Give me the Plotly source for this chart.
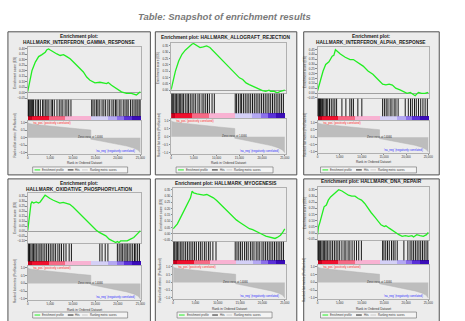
import plotly.graph_objects as go

W, H = 465, 321

main_title = "Table: Snapshot of enrichment results"
panel_titles = [
    ["Enrichment plot:", "HALLMARK_INTERFERON_GAMMA_RESPONSE"],
    ["Enrichment plot: HALLMARK_ALLOGRAFT_REJECTION"],
    ["Enrichment plot:", "HALLMARK_INTERFERON_ALPHA_RESPONSE"],
    ["Enrichment plot:", "HALLMARK_OXIDATIVE_PHOSPHORYLATION"],
    ["Enrichment plot: HALLMARK_MYOGENESIS"],
    ["Enrichment plot: HALLMARK_DNA_REPAIR"],
]

# Enrichment score curves (rank, ES)
es_rank = [
    [0, 441, 956, 1691, 2426, 3162, 3897, 4265, 4632, 5000, 5735, 6471, 7206, 7941, 8676, 9412, 10147, 10882,
     11618, 12353, 13088, 13824, 14926, 16029, 17500, 17868, 18603, 19706, 20809, 21912, 23015, 24118, 24485, 25000],
    [0, 434, 939, 1661, 2384, 3107, 3829, 4552, 4913, 5636, 6358, 7081, 7803, 8526, 9249, 9971, 10694, 11416,
     12139, 12861, 13584, 14306, 15029, 15751, 16474, 17197, 17919, 18642, 19364, 20087, 20809, 21532, 21893,
     22616, 23338, 24061, 25000],
    [0, 368, 735, 1250, 1838, 2573, 3308, 3675, 4043, 4410, 5145, 6248, 7350, 8085, 8820, 9555, 10290, 11393,
     12495, 13598, 14700, 15435, 16170, 16905, 17640, 18743, 19845, 20213, 20948, 21683, 22050, 22785, 23520,
     24255, 25000],
    [0, 219, 437, 729, 948, 1312, 1895, 2405, 2770, 3134, 3499, 3863, 4228, 4592, 4957, 5686, 6415, 7144, 7873,
     8601, 9330, 10059, 10788, 11517, 12246, 12975, 13703, 14432, 15161, 15890, 16619, 17348, 18077, 18806,
     19535, 19900, 20264, 20629, 21358, 22087, 22816, 23545, 24274, 25000],
    [0, 367, 953, 1686, 2419, 3152, 3885, 4252, 4619, 5352, 6085, 6818, 7551, 8284, 9017, 9750, 10483, 11216,
     11949, 12682, 13415, 14148, 14881, 15614, 16347, 17080, 17813, 18546, 19279, 20012, 20745, 21478, 22211,
     22797, 23310, 24043, 24556, 25000],
    [0, 221, 515, 956, 1470, 1985, 2426, 2940, 3675, 4410, 4778, 5513, 6248, 6983, 7718, 8453, 9188, 9923,
     10658, 11393, 12128, 12863, 13598, 14333, 15068, 15435, 16170, 16905, 17640, 18375, 19110, 19845, 20580,
     21315, 21683, 22418, 23153, 23888, 24623, 25000],
]
es_score = [
    [0.01, 0.114, 0.204, 0.28, 0.33, 0.348, 0.37, 0.393, 0.40, 0.39, 0.37, 0.354, 0.34, 0.348, 0.33, 0.31, 0.28,
     0.25, 0.22, 0.19, 0.144, 0.114, 0.09, 0.096, 0.084, 0.093, 0.069, 0.039, 0.009, -0.006, -0.006, -0.02,
     -0.006, 0.01],
    [0.005, 0.072, 0.151, 0.231, 0.284, 0.316, 0.342, 0.363, 0.369, 0.350, 0.337, 0.342, 0.350, 0.337, 0.310,
     0.284, 0.257, 0.231, 0.204, 0.178, 0.151, 0.125, 0.098, 0.085, 0.058, 0.045, 0.032, 0.018, 0.005, -0.003,
     -0.008, 0.0, -0.008, -0.008, -0.021, -0.008, 0.0],
    [0.024, 0.092, 0.160, 0.228, 0.296, 0.323, 0.381, 0.391, 0.449, 0.432, 0.405, 0.371, 0.347, 0.347, 0.323,
     0.303, 0.279, 0.228, 0.194, 0.143, 0.092, 0.085, 0.092, 0.082, 0.051, 0.031, 0.007, -0.003, 0.007, -0.010,
     -0.027, 0.007, -0.003, -0.003, 0.007],
    [0.003, 0.105, 0.207, 0.276, 0.293, 0.282, 0.293, 0.282, 0.293, 0.316, 0.337, 0.361, 0.350, 0.337, 0.327,
     0.310, 0.293, 0.282, 0.289, 0.282, 0.269, 0.241, 0.207, 0.173, 0.139, 0.105, 0.071, 0.037, 0.010, -0.014,
     -0.031, -0.048, -0.082, -0.099, -0.116, -0.105, -0.116, -0.099, -0.099, -0.099, -0.082, -0.065, -0.031,
     0.003],
    [0.041, 0.059, 0.080, 0.131, 0.183, 0.235, 0.286, 0.338, 0.325, 0.317, 0.312, 0.307, 0.312, 0.299, 0.286,
     0.265, 0.240, 0.214, 0.183, 0.157, 0.137, 0.111, 0.093, 0.075, 0.054, 0.041, 0.034, 0.023, 0.008, -0.005,
     -0.018, -0.023, -0.028, -0.036, -0.028, -0.010, 0.015, 0.04],
    [-0.013, 0.053, 0.085, 0.147, 0.213, 0.227, 0.267, 0.293, 0.320, 0.347, 0.352, 0.341, 0.325, 0.307, 0.299,
     0.299, 0.280, 0.267, 0.240, 0.200, 0.165, 0.133, 0.101, 0.067, 0.053, 0.059, 0.040, 0.021, 0.005, -0.013,
     -0.027, -0.021, -0.027, -0.021, -0.032, -0.013, -0.021, -0.027, -0.013, 0.005],
]
es_ranges = [[-0.06, 0.42], [-0.025, 0.375], [-0.055, 0.48], [-0.125, 0.385], [-0.06, 0.365], [-0.06, 0.375]]
es_ticks = [
    [-0.05, 0.0, 0.05, 0.10, 0.15, 0.20, 0.25, 0.30, 0.35, 0.40],
    [0.0, 0.05, 0.10, 0.15, 0.20, 0.25, 0.30, 0.35],
    [-0.05, 0.0, 0.05, 0.10, 0.15, 0.20, 0.25, 0.30, 0.35, 0.40, 0.45],
    [-0.10, -0.05, 0.0, 0.05, 0.10, 0.15, 0.20, 0.25, 0.30, 0.35],
    [-0.05, 0.0, 0.05, 0.10, 0.15, 0.20, 0.25, 0.30, 0.35],
    [-0.05, 0.0, 0.05, 0.10, 0.15, 0.20, 0.25, 0.30, 0.35],
]

# Hit positions (rank of gene-set members)
hits = [
    [0, 150, 300, 500, 700, 900, 1100, 1300, 1700, 2100, 2400, 2800, 3300, 3600, 4000, 4300, 4700, 5200, 5500,
     5900, 6500, 7000, 7400, 7800, 8300, 8700, 9100, 9600, 14200, 14500, 14900, 15300, 15600, 16000, 16500,
     16900, 17300, 17800, 18200, 18700, 19100, 19500, 19800, 20300, 20700, 21200, 21600, 22000, 22300, 22800,
     23200, 23600, 24000, 24300, 24700, 24950],
    [0, 200, 400, 600, 900, 1200, 1500, 1800, 2100, 2400, 2700, 3100, 3500, 3800, 4200, 4600, 5000, 5400, 5900,
     6300, 6800, 7200, 7600, 8000, 8400, 9000, 9500, 14100, 14400, 14800, 15200, 15500, 15900, 16300, 16700,
     17100, 17500, 17900, 18300, 18700, 19100, 19500, 19900, 20300, 20700, 21100, 21500, 21900, 22300, 22700,
     23100, 23500, 23900, 24300, 24700],
    [0, 150, 300, 450, 650, 850, 1100, 1400, 1700, 2000, 2300, 2700, 3100, 3500, 3900, 4300, 5500, 6400, 7300,
     7700, 8100, 9100, 10000, 14700, 15100, 15500, 15900, 16400, 16800, 17300, 17700, 18200, 19800, 20500,
     21000, 21400, 21900, 22300, 22800, 23300, 23800, 24300, 24800],
    [0, 200, 400, 700, 1000, 1300, 1600, 1900, 2300, 2700, 3000, 3400, 3800, 4200, 4600, 5000, 5400, 5800,
     6200, 6700, 7100, 7500, 8000, 8500, 9200, 9700, 16000, 16500, 17200, 17800, 19900, 20300, 20700, 21000,
     21400, 21800, 22100, 22500, 22900, 23300, 23700, 24000, 24400, 24800],
    [0, 200, 400, 700, 1000, 1300, 1700, 2000, 2400, 2800, 3200, 3600, 4000, 4400, 4800, 5200, 5700, 6100,
     6500, 7000, 7400, 7900, 8300, 8900, 9600, 13900, 14300, 14700, 15100, 15500, 16000, 16400, 16800, 17300,
     17700, 18100, 18600, 19000, 19400, 19900, 20300, 20700, 21100, 21500, 21900, 22300, 22700, 23100, 23500,
     23900, 24300, 24700],
    [0, 150, 300, 500, 700, 1000, 1300, 1600, 1900, 2200, 2600, 3000, 3400, 3800, 4200, 4600, 5000, 5500,
     6000, 6400, 6900, 7300, 7800, 8300, 8800, 9300, 9900, 14700, 15000, 15400, 15800, 16200, 16700, 17100,
     17500, 18000, 19500, 20400, 20900, 21300, 21700, 22100, 22500, 22900, 23300, 23700, 24100, 24500, 24900],
]

# Ranked list metric (shared by all panels)
metric_rank = [0, 300, 1000, 2500, 5000, 8000, 11000, 14000, 14000, 16000, 18000, 20000, 22000, 23500, 24500, 25000]
metric_value = [1.02, 0.95, 0.9, 0.85, 0.8, 0.68, 0.6, 0.52, -0.09, -0.2, -0.31, -0.42, -0.55, -0.68, -0.82, -1.0]

# Colour bar bands (rank start, rank end)
band_start = [0, 900, 4600, 8300, 14000, 17800, 19800, 21300, 23000]
band_end = [900, 4600, 8300, 14000, 17800, 19800, 21300, 23000, 25000]
band_colors = ["#c4001c", "#f0102e", "#f56a86", "#f8b2d2", "#d4d0f6", "#b4a8f2", "#8c70ea", "#5a30d8", "#3a0cb8"]

rank_ticks = [0, 5000, 10000, 15000, 20000, 25000]
rank_tick_labels = ["0", "5,000", "10,000", "15,000", "20,000", "25,000"]
metric_ticks = [-1.0, -0.5, 0.0, 0.5, 1.0]

legend_labels = ["Enrichment profile", "Hits", "Ranking metric scores"]

geo = [
    dict(box=(7, 32, 151, 176), x=(27, 142), tl=[37, 43], es=(47, 100), hits=(100, 122), cb=5, rank=(122, 155), leg=(32, 128, 168, 174)),
    dict(box=(156, 32, 299, 176), x=(172, 288), tl=[38], es=(43, 94), hits=(94, 120), cb=6, rank=(120, 155), leg=(177, 275, 168, 174)),
    dict(box=(306, 32, 443, 176), x=(320, 433), tl=[37, 43], es=(47, 99), hits=(99, 122), cb=5, rank=(122, 154), leg=(323, 420, 168, 174)),
    dict(box=(7, 180, 151, 326), x=(27, 142), tl=[185, 191], es=(194, 245), hits=(245, 268), cb=5, rank=(268, 302), leg=(32, 128, 314, 320)),
    dict(box=(156, 180, 299, 326), x=(174, 288), tl=[185], es=(189, 243), hits=(243, 267), cb=5, rank=(267, 301), leg=(178, 274, 314, 320)),
    dict(box=(306, 180, 443, 326), x=(320, 433), tl=[183], es=(188, 242), hits=(242, 267), cb=5, rank=(267, 301), leg=(323, 420, 314, 320)),
]


def fx(v):
    return v / W


def fy(v):
    return 1 - v / H


FONT = "Liberation Sans"
fig = go.Figure()
layout = dict(width=W, height=H, margin=dict(l=0, r=0, t=0, b=0), autosize=False,
              paper_bgcolor="white", plot_bgcolor="white", showlegend=False)
shapes = []
annotations = []


def ann(text, x, y, size, color="#333", xanchor="center", yanchor="middle", xref="paper", yref="paper", angle=0):
    annotations.append(dict(text=text, x=x, y=y, xref=xref, yref=yref, showarrow=False, xanchor=xanchor,
                            yanchor=yanchor, textangle=angle, borderpad=0,
                            font=dict(family=FONT, size=size, color=color)))


ann("<b><i>" + main_title + "</i></b>", fx(226), fy(17), 9.5, "#7a7a7a")

XR = [0, 25250]

for p in range(6):
    g = geo[p]
    bx0, by0, bx1, by1 = g["box"]
    shapes.append(dict(type="rect", xref="paper", yref="paper", x0=fx(bx0), x1=fx(bx1), y0=fy(by1), y1=fy(by0),
                       fillcolor="#ececec", line=dict(color="#505050", width=1), layer="below"))
    for line, ty in zip(panel_titles[p], g["tl"]):
        ann("<b>" + line + "</b>", fx((bx0 + bx1) / 2), fy(ty), 4.8, "#1a1a1a")
    ids = [p * 3 + k + 1 for k in range(3)]
    names = [("xaxis" if i == 1 else f"xaxis{i}", "yaxis" if i == 1 else f"yaxis{i}", "x" if i == 1 else f"x{i}",
              "y" if i == 1 else f"y{i}") for i in ids]
    xd = [fx(g["x"][0]), fx(g["x"][1])]
    # ES axis
    xa, ya, xr, yr = names[0]
    layout[xa] = dict(domain=xd, range=XR, anchor=yr, showticklabels=False, showgrid=False, zeroline=False,
                      showline=True, linecolor="#b0b0b0", linewidth=0.5, mirror=True, ticks="")
    layout[ya] = dict(domain=[fy(g["es"][1]), fy(g["es"][0])], range=es_ranges[p], anchor=xr, tickvals=es_ticks[p],
                      tickformat=".2f", ticks="outside", ticklen=1.5, tickwidth=0.5, tickcolor="#888",
                      tickfont=dict(family=FONT, size=3, color="#333"), showgrid=False, zeroline=True,
                      zerolinecolor="#a0a0a0", zerolinewidth=0.6, showline=True, linecolor="#b0b0b0",
                      linewidth=0.5, mirror=True)
    fig.add_trace(go.Scatter(x=es_rank[p], y=es_score[p], mode="lines", line=dict(color="#22ee22", width=1.3),
                             xaxis=xr, yaxis=yr))
    # hits axis
    xa, ya, xr, yr = names[1]
    hy0, hy1 = g["hits"]
    cbf = g["cb"] / (hy1 - hy0)
    layout[xa] = dict(domain=xd, range=XR, anchor=yr, showticklabels=False, showgrid=False, zeroline=False,
                      showline=False, ticks="")
    layout[ya] = dict(domain=[fy(hy1), fy(hy0)], range=[0, 1], anchor=xr, showticklabels=False, showgrid=False,
                      zeroline=False, showline=False, ticks="")
    hx, hyv = [], []
    for h in hits[p]:
        hx += [h, h, None]
        hyv += [cbf, 1, None]
    fig.add_trace(go.Scatter(x=hx, y=hyv, mode="lines", line=dict(color="black", width=0.9), xaxis=xr, yaxis=yr))
    fig.add_trace(go.Bar(x=[(a + b) / 2 for a, b in zip(band_start, band_end)],
                         width=[b - a for a, b in zip(band_start, band_end)],
                         y=[cbf] * len(band_start), base=0, marker=dict(color=band_colors, line=dict(width=0)),
                         xaxis=xr, yaxis=yr))
    # rank axis
    xa, ya, xr, yr = names[2]
    layout[xa] = dict(domain=xd, range=XR, anchor=yr, tickvals=rank_ticks, ticktext=rank_tick_labels,
                      ticks="outside", ticklen=1, tickwidth=0.5, tickcolor="#888",
                      tickfont=dict(family=FONT, size=3, color="#333"), showgrid=False, zeroline=False,
                      showline=True, linecolor="#b0b0b0", linewidth=0.5, mirror=True)
    layout[ya] = dict(domain=[fy(g["rank"][1]), fy(g["rank"][0])], range=[-1.08, 1.1], anchor=xr,
                      tickvals=metric_ticks, tickformat=".1f", ticks="outside", ticklen=1.5, tickwidth=0.5,
                      tickcolor="#888", tickfont=dict(family=FONT, size=3, color="#333"), showgrid=False,
                      zeroline=False, showline=True, linecolor="#b0b0b0", linewidth=0.5, mirror=True)
    fig.add_trace(go.Scatter(x=metric_rank, y=metric_value, mode="lines", fill="tozeroy", fillcolor="#bdbdbd",
                             line=dict(color="#b5b5b5", width=0.5), xaxis=xr, yaxis=yr))
    ann("'na_pos' (positively correlated)", 900, 1.0, 2.8, "#ff2a2a", xanchor="left", xref=xr, yref=yr)
    ann("Zero cross at 14066", 14000, 0.02, 2.8, "#333", xref=xr, yref=yr)
    ann("'na_neg' (negatively correlated)", 24000, -0.9, 2.8, "#2a2aff", xanchor="right", xref=xr, yref=yr)
    # axis titles
    ann("Enrichment score (ES)", fx(g["x"][0] - 13), fy((g["es"][0] + g["es"][1]) / 2), 3.2, angle=-90)
    ann("Ranked list metric (PreRanked)", fx(g["x"][0] - 13), fy((g["rank"][0] + g["rank"][1]) / 2 - 2), 3.2,
        angle=-90)
    ann("Rank in Ordered Dataset", fx((g["x"][0] + g["x"][1]) / 2), fy(g["rank"][1] + 9.5), 3.2)
    # legend box
    lx0, lx1, ly0, ly1 = g["leg"]
    shapes.append(dict(type="rect", xref="paper", yref="paper", x0=fx(lx0), x1=fx(lx1), y0=fy(ly1), y1=fy(ly0),
                       fillcolor="#f4f4f4", line=dict(color="#666", width=0.6)))
    lw = lx1 - lx0
    ym = (ly0 + ly1) / 2
    items = [(0.02, 0.08, "#22ee22"), (0.37, 0.43, "#222"), (0.52, 0.58, "#c8c8c8")]
    for (a, b, col), txt in zip(items, legend_labels):
        shapes.append(dict(type="line", xref="paper", yref="paper", x0=fx(lx0 + a * lw), x1=fx(lx0 + b * lw),
                           y0=fy(ym), y1=fy(ym), line=dict(color=col, width=1)))
        ann(txt, fx(lx0 + b * lw + 1), fy(ym), 2.7, xanchor="left")

layout["shapes"] = shapes
layout["annotations"] = annotations
layout["bargap"] = 0
fig.update_layout(**layout)
fig.write_html("out.html")
